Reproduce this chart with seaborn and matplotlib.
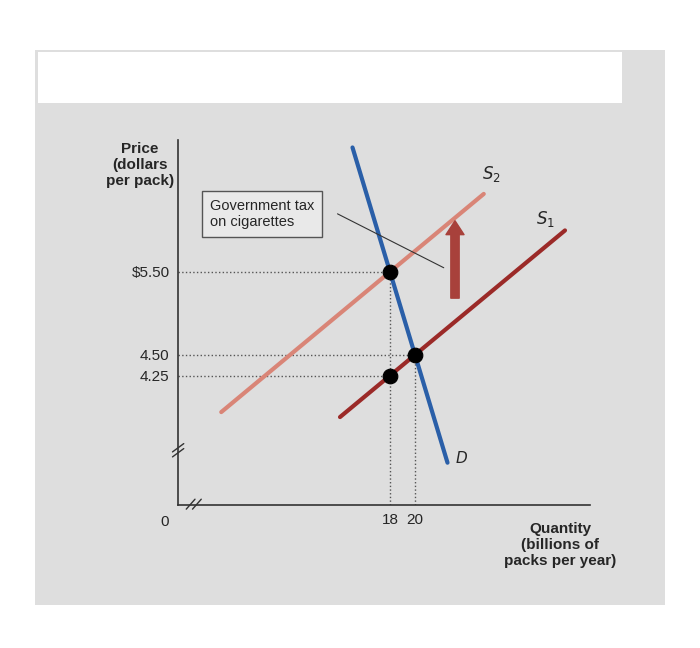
import matplotlib
matplotlib.use("Agg")
import matplotlib.pyplot as plt
import seaborn as sns
import numpy as np
import pandas as pd
from matplotlib.patches import Rectangle

sns.set_style("white")
plt.rcParams['font.family'] = ['Liberation Sans', 'DejaVu Sans']

# data
demand_q = [15.0, 22.6]
demand_p = [7.0, 3.2]
s1_q = [14.0, 32.0]
s1_p = [3.75, 6.0]
s2_q = [4.5, 25.5]
s2_p = [3.81, 6.44]
eq_q = [18, 20, 18]
eq_p = [5.50, 4.50, 4.25]
price_ticks = [5.50, 4.50, 4.25]
price_labels = ["$5.50", "4.50", "4.25"]

fig = plt.figure(figsize=(7, 6.48), dpi=100)
fig.patch.set_facecolor("white")
fig.add_artist(Rectangle((35/700, 1-605/648), 630/700, 555/648, transform=fig.transFigure,
                         facecolor="#dedede", edgecolor="none", zorder=0))
fig.add_artist(Rectangle((38/700, 1-103/648), 584/700, 51/648, transform=fig.transFigure,
                         facecolor="white", edgecolor="none", zorder=1))

ax = fig.add_axes([178/700, 1-505/648, 412/700, 365/648])
ax.set_facecolor("#dedede")
ax.set_xlim(1.04, 34)
ax.set_ylim(2.69, 7.09)
for s in ["top", "right"]:
    ax.spines[s].set_visible(False)
for s in ["left", "bottom"]:
    ax.spines[s].set_color("#333333")
    ax.spines[s].set_linewidth(1.2)

# dotted guides
for q, p in zip(eq_q, eq_p):
    ax.plot([1.04, q], [p, p], ls=":", color="#555555", lw=1)
ax.plot([18, 18], [2.69, 5.5], ls=":", color="#555555", lw=1)
ax.plot([20, 20], [2.69, 4.5], ls=":", color="#555555", lw=1)

sns.lineplot(x=s2_q, y=s2_p, ax=ax, color="#d98577", lw=3)
sns.lineplot(x=s1_q, y=s1_p, ax=ax, color="#9b2a28", lw=3)
sns.lineplot(x=demand_q, y=demand_p, ax=ax, color="#2a5fa8", lw=3)
sns.scatterplot(x=eq_q, y=eq_p, ax=ax, color="black", s=110, zorder=5, edgecolor="black")

ax.set_yticks(price_ticks)
ax.set_yticklabels(price_labels, fontsize=11)
ax.set_xticks([18, 20])
ax.set_xticklabels(["18", "20"], fontsize=11)
ax.tick_params(length=0, pad=6)

# axis break marks
ax.plot([0.6, 1.5], [3.33, 3.43], color="#333333", lw=1, clip_on=False)
ax.plot([0.6, 1.5], [3.27, 3.37], color="#333333", lw=1, clip_on=False)
ax.plot([1.7, 2.4], [2.64, 2.76], color="#333333", lw=1, clip_on=False)
ax.plot([2.2, 2.9], [2.64, 2.76], color="#333333", lw=1, clip_on=False)

# tax arrow
ax.annotate("", xy=(23.2, 6.15), xytext=(23.2, 5.15),
            arrowprops=dict(arrowstyle="simple,head_width=1.3,head_length=1.0,tail_width=0.6",
                            color="#a8413b"))
ax.plot([13.8, 22.3], [6.2, 5.55], color="#333333", lw=0.8)
ax.text(3.6, 6.2, "Government tax\non cigarettes", fontsize=10.5, va="center",
        bbox=dict(boxstyle="square,pad=0.55", facecolor="#e9e9e9", edgecolor="#555555"))

ax.text(25.4, 6.62, "$S_2$", fontsize=12)
ax.text(29.7, 6.08, "$S_1$", fontsize=12)
ax.text(23.2, 3.2, "$D$", fontsize=11, style="italic")

fig.text(165/700, 1-522/648, "0", fontsize=11, ha="center", va="center")
fig.text(140/700, 1-165/648, "Price\n(dollars\nper pack)", fontsize=11, fontweight="bold",
         ha="center", va="center", linespacing=1.2)
fig.text(560/700, 1-545/648, "Quantity\n(billions of\npacks per year)", fontsize=11,
         fontweight="bold", ha="center", va="center", linespacing=1.2)

fig.savefig("out.png", dpi=100)
